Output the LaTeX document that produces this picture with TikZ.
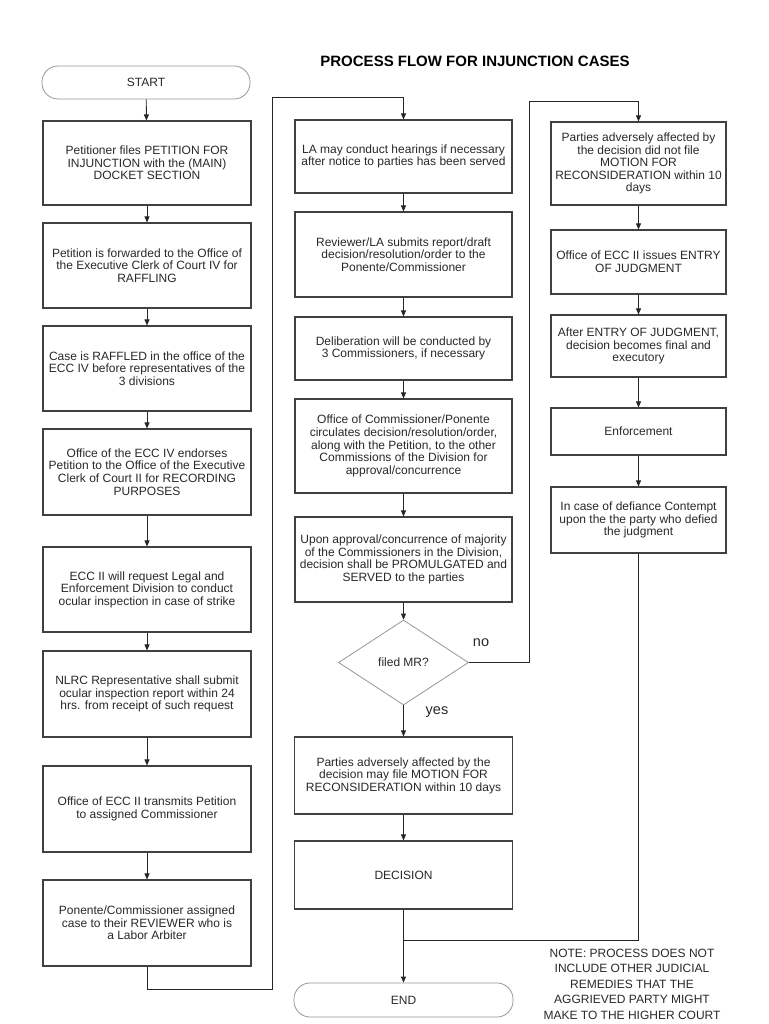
\documentclass[tikz,border=0pt]{standalone}
\usepackage{fontspec}
\setmainfont{Liberation Sans}
\usetikzlibrary{arrows.meta, shapes.geometric}
\definecolor{boxline}{RGB}{64,64,64}
\definecolor{termline}{RGB}{150,150,150}
\definecolor{inktext}{RGB}{40,40,40}

\begin{document}
\begin{tikzpicture}[x=1pt, y=-1pt,
  proc/.style={draw=boxline, line width=1.1pt, rectangle, align=center, inner sep=2pt, text=inktext, font=\fontsize{12}{12.6}\selectfont},
  term/.style={draw=termline, line width=0.8pt, rounded corners=16pt, rectangle, text=inktext, font=\fontsize{12}{12.6}\selectfont},
  decide/.style={draw=termline, line width=0.8pt, diamond, inner sep=0pt, minimum width=130pt, minimum height=85pt, text=inktext, font=\fontsize{12}{12.6}\selectfont},
  flow/.style={-{Triangle[length=6pt, width=5pt]}, line width=0.9pt, draw=black!85},
  link/.style={line width=0.9pt, draw=black!85},
  lbl/.style={text=inktext, font=\fontsize{14.5}{16}\selectfont}]
  \useasboundingbox (0,0) rectangle (768,1024);

  \node[font=\fontsize{15}{18}\selectfont\bfseries] (title) at (475,61) {PROCESS FLOW FOR INJUNCTION CASES};

  % first column
  \node[term, minimum width=208pt, minimum height=33pt] (start) at (146,82.5) {START};
  \node[proc, minimum width=208pt, minimum height=84pt] (petition) at (147,163) {Petitioner files PETITION FOR\\INJUNCTION with the (MAIN)\\DOCKET SECTION};
  \node[proc, minimum width=208pt, minimum height=85pt] (forward) at (147,265.5) {Petition is forwarded to the Office of\\the Executive Clerk of Court IV for\\RAFFLING};
  \node[proc, minimum width=208pt, minimum height=85pt] (raffle) at (147,368.5) {Case is RAFFLED in the office of the\\ECC IV before representatives of the\\3 divisions};
  \node[proc, minimum width=208pt, minimum height=86pt] (endorse) at (147,472) {Office of the ECC IV endorses\\Petition to the Office of the Executive\\Clerk of Court II for RECORDING\\PURPOSES};
  \node[proc, minimum width=208pt, minimum height=85pt] (request) at (147,589.5) {ECC II will request Legal and\\Enforcement Division to conduct\\ocular inspection in case of strike};
  \node[proc, minimum width=208pt, minimum height=86pt] (report) at (147,694) {NLRC Representative shall submit\\ocular inspection report within 24\\hrs. from receipt of such request};
  \node[proc, minimum width=208pt, minimum height=86pt] (transmit) at (147,809) {Office of ECC II transmits Petition\\to assigned Commissioner};
  \node[proc, minimum width=208pt, minimum height=86pt] (assign) at (147,923) {Ponente/Commissioner assigned\\case to their REVIEWER who is\\a Labor Arbiter};

  % second column
  \node[proc, minimum width=217pt, minimum height=73pt] (hearing) at (403.5,156.5) {LA may conduct hearings if necessary\\after notice to parties has been served};
  \node[proc, minimum width=217pt, minimum height=85pt] (draft) at (403.5,254.5) {Reviewer/LA submits report/draft\\decision/resolution/order to the\\Ponente/Commissioner};
  \node[proc, minimum width=217pt, minimum height=63pt] (deliberate) at (403.5,348.5) {Deliberation will be conducted by\\3 Commissioners, if necessary};
  \node[proc, minimum width=217pt, minimum height=94pt] (circulate) at (403.5,446) {Office of Commissioner/Ponente\\circulates decision/resolution/order,\\along with the Petition, to the other\\Commissions of the Division for\\approval/concurrence};
  \node[proc, minimum width=217pt, minimum height=85pt] (promulgate) at (403.5,559.5) {Upon approval/concurrence of majority\\of the Commissioners in the Division,\\decision shall be PROMULGATED and\\SERVED to the parties};
  \node[decide] (filedmr) at (403.5,662.5) {filed MR?};
  \node[proc, minimum width=218pt, minimum height=77pt] (motion) at (403.5,775.5) {Parties adversely affected by the\\decision may file MOTION FOR\\RECONSIDERATION within 10 days};
  \node[proc, minimum width=218pt, minimum height=68pt] (decision) at (403.5,875) {DECISION};
  \node[term, minimum width=219pt, minimum height=34pt] (finish) at (403.5,1000) {END};

  % third column
  \node[proc, minimum width=175pt, minimum height=83pt] (nomotion) at (638.5,163.5) {Parties adversely affected by\\the decision did not file\\MOTION FOR\\RECONSIDERATION within 10\\days};
  \node[proc, minimum width=175pt, minimum height=64pt] (entry) at (638.5,262) {Office of ECC II issues ENTRY\\OF JUDGMENT};
  \node[proc, minimum width=175pt, minimum height=62pt] (final) at (638.5,346) {After ENTRY OF JUDGMENT,\\decision becomes final and\\executory};
  \node[proc, minimum width=175pt, minimum height=47pt] (enforce) at (638.5,431.5) {Enforcement};
  \node[proc, minimum width=175pt, minimum height=66pt] (contempt) at (638.5,520) {In case of defiance Contempt\\upon the the party who defied\\the judgment};

  \node[align=center, text=inktext, font=\fontsize{12}{15.5}\selectfont] (note) at (632,984) {NOTE: PROCESS DOES NOT\\INCLUDE OTHER JUDICIAL\\REMEDIES THAT THE\\AGGRIEVED PARTY MIGHT\\MAKE TO THE HIGHER COURT};

  % bends
  \coordinate (turnA) at (272,989);
  \coordinate (turnB) at (272,97);
  \coordinate (turnC) at (529,101);
  \coordinate (join) at (403.5,940);

  \draw[flow] (start) -- (petition);
  \draw[flow] (petition) -- (forward);
  \draw[flow] (forward) -- (raffle);
  \draw[flow] (raffle) -- (endorse);
  \draw[flow] (endorse) -- (request);
  \draw[flow] (request) -- (report);
  \draw[flow] (report) -- (transmit);
  \draw[flow] (transmit) -- (assign);
  \draw[flow] (assign.south) |- (turnA) -- (turnB) -| (hearing.north);

  \draw[flow] (hearing) -- (draft);
  \draw[flow] (draft) -- (deliberate);
  \draw[flow] (deliberate) -- (circulate);
  \draw[flow] (circulate) -- (promulgate);
  \draw[flow] (promulgate) -- (filedmr);
  \draw[flow] (filedmr) -- (motion);
  \draw[flow] (motion) -- (decision);
  \draw[flow] (decision) -- (finish);
  \draw[flow] (filedmr.east) -| (turnC) -| (nomotion.north);
  \node[lbl] (nolbl) at (481,643) {no};
  \node[lbl] (yeslbl) at (437,712) {yes};

  \draw[flow] (nomotion) -- (entry);
  \draw[flow] (entry) -- (final);
  \draw[flow] (final) -- (enforce);
  \draw[flow] (enforce) -- (contempt);
  \draw[link] (contempt.south) |- (join);
\end{tikzpicture}
\end{document}
